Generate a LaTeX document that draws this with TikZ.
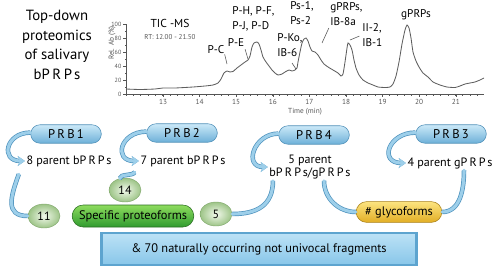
\documentclass[tikz,border=0pt]{standalone}
\usepackage{fontspec}
\setmainfont{PT Sans}
\newfontfamily\widefont[LetterSpace=18]{PT Sans}
\usetikzlibrary{shapes.misc,shapes.geometric,arrows.meta}
\definecolor{PillTop}{HTML}{CBE9F8}
\definecolor{PillBot}{HTML}{6DB0D8}
\definecolor{PillEdge}{HTML}{4F8FB8}
\definecolor{TubeFill}{HTML}{9DCFEA}
\definecolor{TubeEdge}{HTML}{4E92BD}
\definecolor{BallLight}{HTML}{F2F9EC}
\definecolor{BallGreen}{HTML}{9DC487}
\definecolor{BallEdge}{HTML}{7FA66B}
\definecolor{GreenTop}{HTML}{8EDC5E}
\definecolor{GreenBot}{HTML}{2F9B2F}
\definecolor{GreenEdge}{HTML}{2B6E22}
\definecolor{GoldTop}{HTML}{FCE480}
\definecolor{GoldBot}{HTML}{E2AE25}
\definecolor{GoldEdge}{HTML}{A88018}
\definecolor{FragTop}{HTML}{BCE2F6}
\definecolor{FragBot}{HTML}{88C6E9}
\definecolor{FragEdge}{HTML}{5DA4CF}
\definecolor{AxisGray}{HTML}{555555}
\definecolor{TraceGray}{HTML}{5E5E5E}
\newcommand{\prps}{{\widefont PRPs}}

\begin{document}
\begin{tikzpicture}[x=0.25mm,y=-0.25mm,
  lbl/.style={font=\fontsize{8.6}{9.4}\selectfont,inner sep=1pt,align=center},
  peak/.style={font=\fontsize{8}{10.2}\selectfont,inner sep=0pt,align=left},
  tick/.style={font=\fontsize{4.3}{5}\selectfont,inner sep=1pt,text=AxisGray},
  axis/.style={draw=AxisGray,line width=0.4pt},
  trace/.style={draw=TraceGray,line width=0.6pt},
  prbpill/.style={rounded rectangle,minimum width=20mm,minimum height=4.6mm,top color=PillTop,bottom color=PillBot,draw=PillEdge,line width=0.4pt,font=\fontsize{9}{10}\widefont},
  ball/.style={ellipse,minimum width=8mm,minimum height=6mm,inner sep=0pt,inner color=BallLight,outer color=BallGreen,draw=BallEdge,line width=0.3pt,font=\fontsize{8.5}{10}\selectfont},
  tube/.style={line width=2.2pt,draw=TubeFill,line cap=round,preaction={draw=TubeEdge,line width=3.2pt}},
  tubearrow/.style={tube,-{Stealth[length=5pt,width=7pt]}},
]
\path[use as bounding box] (0,0) rectangle (500,267);

% title
\node[font=\fontsize{10.5}{13.9}\selectfont,align=center] (head) at (57,45) {Top-down\\proteomics\\of salivary\\b\prps};

% chromatogram
\draw[axis] (126,24) -- (126,94) -- (484,94);
\foreach \v/\y in {0/94,20/80,40/66,60/52,80/38,100/24} {
  \draw[axis] (126,\y) -- (123,\y);
  \node[tick,anchor=east] (yt\v) at (123,\y) {\v};
}
\foreach \y in {87,73,59,45,31} \draw[axis] (126,\y) -- (124.5,\y);
\foreach \i in {0,...,48} \draw[axis] ({126+7.32*\i},94) -- ({126+7.32*\i},95.6);
\foreach \t in {13,...,21} {
  \draw[axis] ({163+36.6*(\t-13)},94) -- ({163+36.6*(\t-13)},97);
  \node[tick,font=\fontsize{5.2}{6}\selectfont] (xt\t) at ({163+36.6*(\t-13)},102) {\t};
}
\node[tick,font=\fontsize{5.2}{6}\selectfont] (xlab) at (305,112) {Time (min)};
\node[tick,font=\fontsize{5.2}{6}\selectfont,rotate=90] (ylab) at (112,43) {Rel. Ab (\%)};
\node[font=\fontsize{8.2}{9}\selectfont,inner sep=0pt] (tic) at (170,23) {TIC -MS};
\node[tick,font=\fontsize{5}{6}\selectfont] (rt) at (170,37) {RT: 12.00 - 21.50};

\draw[trace] plot[smooth,tension=0.35] coordinates {
  (126,89) (140,89.5) (155,89) (163,88) (175,88) (193,87) (205,86) (213,85)
  (218,83) (221,79) (224,73) (227,71) (230,72) (233,71.5) (237,68) (241,65)
  (245,62) (248,60) (250,56) (252,47) (254,43) (257,42) (259,44) (261,50)
  (263,57) (266,62) (269,66) (272,70) (275,73) (278,75) (282,74) (285,72)
  (289,70) (292,71) (295,70) (297,68) (298,62) (300,52) (302,43) (304,39)
  (306,38) (308,41) (310,47) (312,51) (315,52) (318,55) (321,60) (324,64)
  (328,67) (333,70) (338,73) (341,76) (343,74) (345,62) (347,48) (348,43)
  (350,45) (352,50) (354,60) (356,68) (359,75) (363,80) (368,83) (373,85)
  (378,87) (385,87.5) (390,87) (393,84) (396,76) (399,62) (402,44) (405,30)
  (407,25) (409,28) (411,38) (413,52) (416,61) (419,67) (423,73) (428,77)
  (433,82) (440,85) (447,87) (455,87.5) (460,86) (465,84) (470,83) (475,82)
  (480,80) (484,78)};

% peak labels
\node[peak] (lpc) at (216,50) {P-C};
\node[peak] (lpe) at (236,43) {P-E};
\node[peak,anchor=west] (lph) at (232,19) {P-H, P-F,\\P-J, P-D};
\node[peak,anchor=west] (lko) at (277,45) {P-Ko,\\IB-6};
\node[peak,anchor=west] (lps) at (290,13) {Ps-1,\\Ps-2};
\node[peak,anchor=west] (lgp) at (330,14) {gPRPs,\\IB-8a};
\node[peak,anchor=west] (lii) at (362,35) {II-2,\\IB-1};
\node[peak] (lg2) at (416,15) {gPRPs};
\coordinate (pkc) at (227,64);
\coordinate (pke) at (248,59);
\coordinate (kotip) at (292,63);
\coordinate (pko) at (296,69);
\coordinate (pksh) at (322,43);
\coordinate (pk18) at (350,40);
\draw[axis] (lpc.south east) -- (pkc);
\draw[axis,shorten <=1.5pt] (lpe.south east) -- (pke);
\draw[axis] (kotip) -- (pko);
\draw[axis,shorten <=2pt] (lgp.south west) -- (pksh);
\draw[axis,shorten <=2pt] (lii.west) -- (pk18);

% PRB genes
\node[prbpill] (prb1) at (66,134) {PRB1};
\node[prbpill] (prb2) at (182,133) {PRB2};
\node[prbpill] (prb4) at (314,135) {PRB4};
\node[prbpill] (prb3) at (451,134) {PRB3};

\node[lbl] (par1) at (69,161) {8 parent b\prps};
\node[lbl] (par2) at (183,161) {7 parent b\prps};
\node[lbl] (par4) at (310,167) {5 parent\\b\prps/g\prps};
\node[lbl] (par3) at (450,163) {4 parent g\prps};

% proteoforms
\node[ball] (c14) at (125,190) {14};
\node[ball] (c11) at (44,216) {11};
\node[rounded rectangle,minimum width=32.75mm,minimum height=5.5mm,top color=GreenTop,bottom color=GreenBot,draw=GreenEdge,line width=0.4pt,font=\fontsize{8.8}{10}\selectfont] (spec) at (133,216) {Specific proteoforms};
\node[ball] (c5) at (216,214) {5};
\node[rounded rectangle,minimum width=23.75mm,minimum height=5mm,top color=GoldTop,bottom color=GoldBot,draw=GoldEdge,line width=0.4pt,font=\fontsize{8.8}{10}\selectfont] (glyco) at (399,212) {\# glycoforms};
\node[minimum width=78.75mm,minimum height=8mm,top color=FragTop,bottom color=FragBot,draw=FragEdge,line width=1.5pt,font=\fontsize{8.8}{10}\selectfont] (frag) at (259,249) {\& 70 naturally occurring not univocal fragments};

% connectors
\draw[tubearrow] ([yshift=1pt]prb1.west) to[out=180,in=180,looseness=2.2] (par1.west);
\draw[tubearrow] ([yshift=1pt]prb2.west) to[out=180,in=180,looseness=2.2] (par2.west);
\draw[tubearrow] ([yshift=1pt]prb4.west) to[out=180,in=180,looseness=1.8] (par4.west);
\draw[tubearrow] ([yshift=1pt]prb3.west) to[out=180,in=180,looseness=2.2] (par3.west);
\draw[tube] ([shift={(-1.5mm,-1.5mm)}]par1.south west) to[out=250,in=180,looseness=1.4] (c11.west);
\draw[tube] ([shift={(-1mm,-1mm)}]par2.south west) to[out=235,in=80,looseness=0.8] (c14.115);
\draw[tube] ([xshift=1.3mm]par4.south west) to[out=270,in=0,looseness=1.2] (c5.east);
\draw[tube] ([xshift=3.5mm]par4.south) to[out=270,in=180] (glyco.west);
\draw[tube] ([xshift=3.5mm]par3.south) to[out=270,in=0] (glyco.east);
\end{tikzpicture}
\end{document}
